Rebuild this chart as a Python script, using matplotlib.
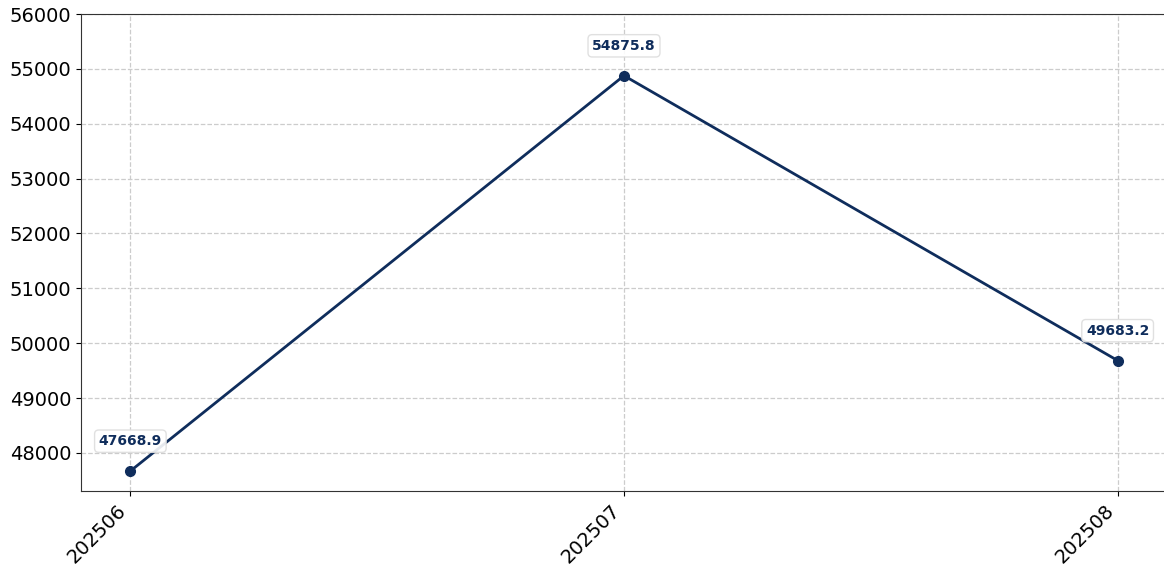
import matplotlib
matplotlib.use("Agg")
import matplotlib.pyplot as plt

months = ["202506", "202507", "202508"]
values = [47668.9, 54875.8, 49683.2]

line_color = "#0f2d5c"

fig = plt.figure(figsize=(11.64, 5.64), dpi=100)
ax = fig.add_axes([81 / 1164, 73 / 564, (1167 - 81) / 1164, (491 - 14) / 564])

x = list(range(len(months)))
ax.plot(x, values, color=line_color, linewidth=2, marker="o", markersize=7)

# value labels above each point
for xi, v in zip(x, values):
    ax.annotate(f"{v:.1f}", (xi, v), textcoords="offset points", xytext=(0, 21.5),
                ha="center", va="center", fontsize=10, fontweight="bold", color=line_color,
                bbox=dict(boxstyle="round,pad=0.3", facecolor="white", edgecolor="#dddddd", alpha=0.9))

ax.set_xticks(x)
ax.set_xticklabels(months, rotation=45, ha="right", fontsize=14)
ax.set_xlim(-0.1, 2.1)
ax.set_ylim(47305, 56000)
ax.set_yticks(range(48000, 56001, 1000))
ax.tick_params(axis="y", labelsize=14)
ax.grid(True, linestyle="--", color="#cccccc", linewidth=0.9)
ax.spines["right"].set_visible(False)
for s in ["top", "left", "bottom"]:
    ax.spines[s].set_color("#333333")

fig.savefig("out.png", dpi=100)
